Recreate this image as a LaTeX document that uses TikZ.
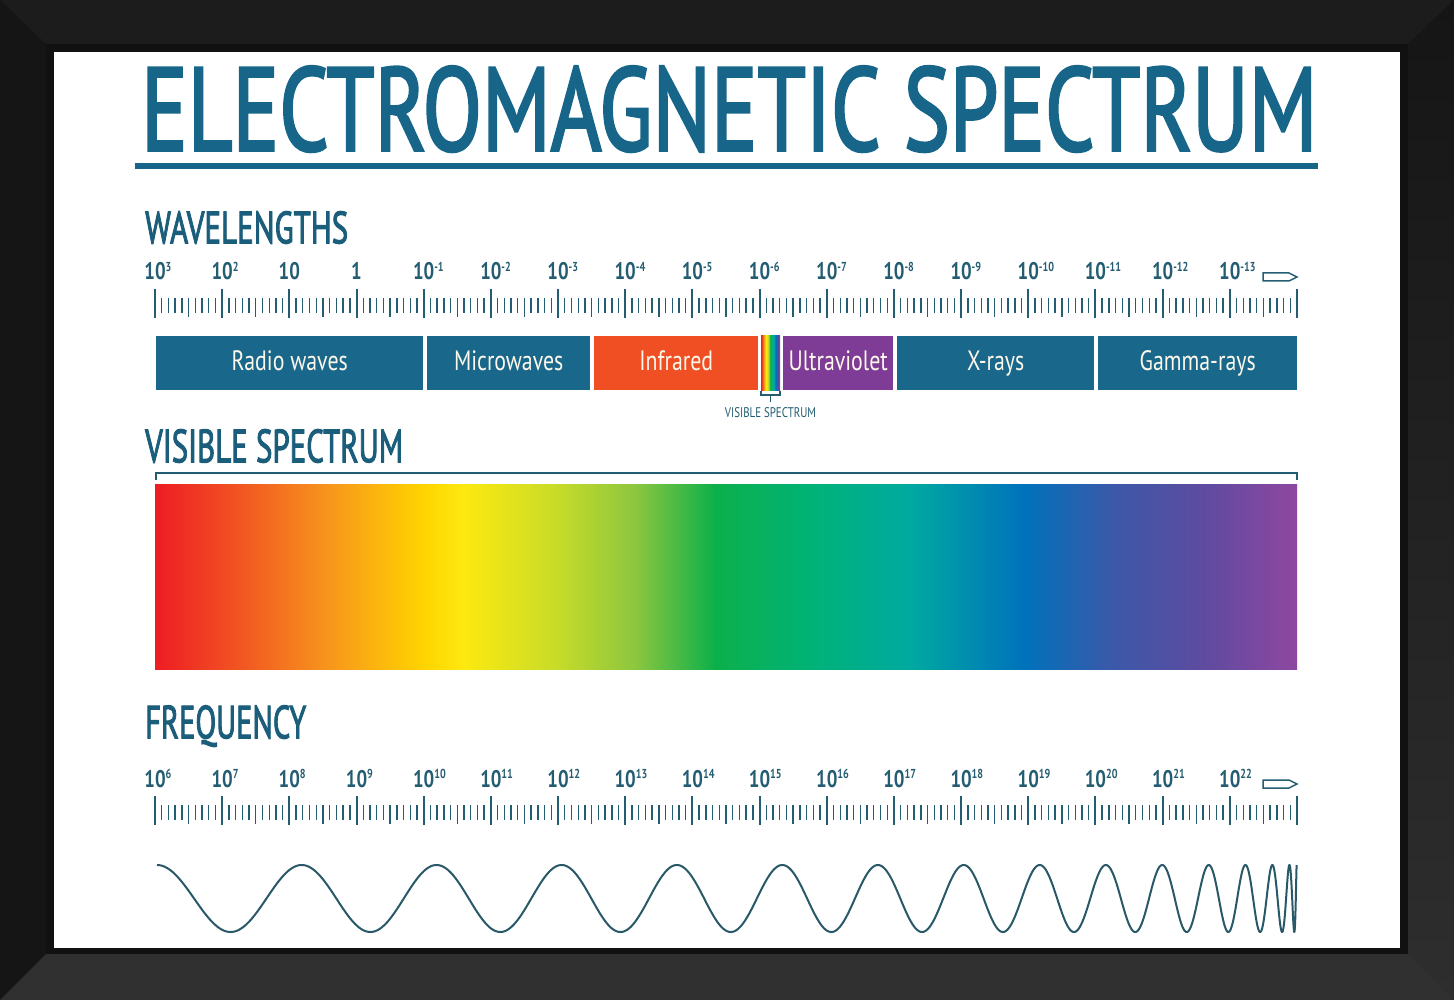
\documentclass[tikz,border=0pt]{standalone}
\usepackage{fontspec}
\usepackage{graphicx}
\newfontfamily\plainfont{PT Sans}[FakeBold=2.5]
\newfontfamily\condfont{PT Sans}[FakeStretch=0.78]
\definecolor{titleblue}{HTML}{17668A}
\definecolor{headblue}{HTML}{1B5E7C}
\definecolor{rulercol}{HTML}{245D72}
\definecolor{bandblue}{HTML}{19678A}
\definecolor{bandtext}{HTML}{FDF8EC}
\definecolor{irred}{HTML}{F04F24}
\definecolor{uvpurple}{HTML}{7E3C96}
\definecolor{wavecol}{HTML}{295968}
\definecolor{framebg}{HTML}{1C1C1C}
\definecolor{frameL}{HTML}{151515}
\definecolor{frameRt}{HTML}{151515}
\definecolor{frameRb}{HTML}{2E2E2E}
\definecolor{frameB}{HTML}{303030}
\definecolor{lip}{HTML}{111111}
\definecolor{g0}{HTML}{ED1C24}
\definecolor{g1}{HTML}{F25A22}
\definecolor{g2}{HTML}{F7941D}
\definecolor{g3}{HTML}{FFD400}
\definecolor{g4}{HTML}{FDE910}
\definecolor{g5}{HTML}{C8DC28}
\definecolor{g6}{HTML}{8DC63F}
\definecolor{g7}{HTML}{0CB04A}
\definecolor{g8}{HTML}{00B27A}
\definecolor{g9}{HTML}{00AAA0}
\definecolor{g10}{HTML}{0072BC}
\definecolor{g11}{HTML}{3C58A8}
\definecolor{g12}{HTML}{5F4BA0}
\definecolor{g13}{HTML}{8F47A0}
\newcommand\myexp[1]{10\rlap{\raisebox{8.5pt}{\fontsize{13}{13}\selectfont #1}}}
\newcommand\mygrad[4]{%
  \foreach \ca/\cb/\fa/\fb in {g0/g1/0/0.08,g1/g2/0.08/0.15,g2/g3/0.15/0.235,g3/g4/0.235/0.27,g4/g5/0.27/0.35,g5/g6/0.35/0.42,g6/g7/0.42/0.49,g7/g8/0.49/0.58,g8/g9/0.58/0.66,g9/g10/0.66/0.76,g10/g11/0.76/0.84,g11/g12/0.84/0.92,g12/g13/0.92/1}{%
    \pgfmathsetmacro\xa{#1+(#3-#1)*\fa}%
    \pgfmathsetmacro\xb{#1+(#3-#1)*\fb+(\fb<1 ? 0.6 : 0)}%
    \shade[left color=\ca, right color=\cb] (\xa,#2) rectangle (\xb,#4);
  }}
\tikzset{
  major/.style={draw=rulercol, line width=2pt},
  minor/.style={draw=rulercol, line width=1.4pt},
  lab/.style={text=rulercol, inner sep=0, anchor=base, font=\condfont\bfseries\fontsize{24}{24}\selectfont},
  band/.style={inner sep=0, anchor=north west, minimum height=54pt, text=bandtext, text height=20pt, text depth=5pt, font=\condfont\fontsize{28}{28}\selectfont},
  heading/.style={inner sep=0, anchor=south west, text=headblue},
  arrowsty/.style={draw=rulercol, line width=1.5pt, line join=miter},
  brack/.style={draw=rulercol, line width=1.2pt},
}
\begin{document}
\begin{tikzpicture}[x=1pt,y=-1pt]
\useasboundingbox (0,0) rectangle (1454,1000);
% frame
\fill[framebg] (0,0) rectangle (1454,1000);
\fill[frameL] (0,0) -- (46,44) -- (46,954) -- (0,1000) -- cycle;
\shade[top color=frameRt, bottom color=frameRb] (1454,0) -- (1408,44) -- (1408,954) -- (1454,1000) -- cycle;
\fill[frameB] (0,1000) -- (46,954) -- (1408,954) -- (1454,1000) -- cycle;
\fill[lip] (46,44) rectangle (1408,954);
\fill[white] (54,52) rectangle (1400,948);
% title
\node[inner sep=0, anchor=south west, text=titleblue] (title) at (141,152) {\resizebox{1176pt}{84pt}{\plainfont ELECTROMAGNETIC SPECTRUM}};
\draw[titleblue, line width=6pt] (135,166) -- (1318,166);
% headings
\node[heading] (hwave) at (145,244) {\resizebox{203pt}{32pt}{\plainfont WAVELENGTHS}};
\node[heading] (hvis) at (145,463) {\resizebox{258pt}{33pt}{\plainfont VISIBLE SPECTRUM}};
\node[heading] (hfreq) at (145,747) {\resizebox{161pt}{33pt}{\plainfont FREQUENCY}};
% rulers
\foreach \off in {0,507}{
  \begin{scope}[shift={(0,\off)}]
    \foreach \i in {0,...,17}{
      \draw[major] ({155+67.176*\i},289) -- ({155+67.176*\i},318);
    }
    \foreach \i in {0,...,16}{
      \foreach \j in {1,...,9}{
        \pgfmathsetmacro\xx{155+67.176*\i+6.7176*\j}
        \pgfmathsetmacro\yy{\j==5 ? 317 : 313}
        \draw[minor] (\xx,298) -- (\xx,\yy);
      }
    }
    \draw[arrowsty] (1263,273) -- (1289,273) -- (1297,277) -- (1289,281) -- (1263,281) -- cycle;
  \end{scope}
}
% wavelength labels
\foreach \i/\t in {0/{\myexp{3}},1/{\myexp{2}},2/{10},3/{1},4/{\myexp{-1}},5/{\myexp{-2}},6/{\myexp{-3}},7/{\myexp{-4}},8/{\myexp{-5}},9/{\myexp{-6}},10/{\myexp{-7}},11/{\myexp{-8}},12/{\myexp{-9}},13/{\myexp{-10}},14/{\myexp{-11}},15/{\myexp{-12}},16/{\myexp{-13}}}{
  \node[lab] (wl\i) at ({155+67.176*\i},280) {\t};
}
% frequency labels
\foreach \i in {0,...,16}{
  \pgfmathtruncatemacro\e{\i+6}
  \node[lab] (fq\i) at ({155+67.176*\i},787) {\myexp{\e}};
}
% bands
\node[band, fill=bandblue, minimum width=267pt] (radio) at (156,336) {Radio waves};
\node[band, fill=bandblue, minimum width=163pt] (micro) at (427,336) {Microwaves};
\node[band, fill=irred, minimum width=164pt] (ir) at (594,336) {Infrared};
\node[band, fill=uvpurple, minimum width=110pt] (uv) at (783,336) {Ultraviolet};
\node[band, fill=bandblue, minimum width=197pt] (xray) at (897,336) {X-rays};
\node[band, fill=bandblue, minimum width=199pt] (gamma) at (1098,336) {Gamma-rays};
% small visible strip
\mygrad{761}{336}{780}{390}
\coordinate (vsl) at (761,391);
\coordinate (vsr) at (780,391);
\coordinate (vsm) at (770.5,395);
\draw[brack] (vsl) -- ++(0,4) -- ([yshift=-4pt]vsr) -- (vsr);
\node[inner sep=0, anchor=base, text=rulercol, font=\condfont\fontsize{14}{14}\selectfont] (vislab) at (770.5,417) {VISIBLE SPECTRUM};
\draw[brack] (vsm) -- (770.5,402);
% visible spectrum bracket and gradient
\draw[brack] (156,480) -- (156,473) -- (1297,473) -- (1297,480);
\mygrad{155}{484}{1297}{669}
% wave
\draw[wavecol, line width=2pt, line join=round] plot[domain=0:15, samples=1500, variable=\t] ({157+149.6*\t-4.908*\t*\t}, {898.5-33.5*cos(360*\t)});
\end{tikzpicture}
\end{document}
